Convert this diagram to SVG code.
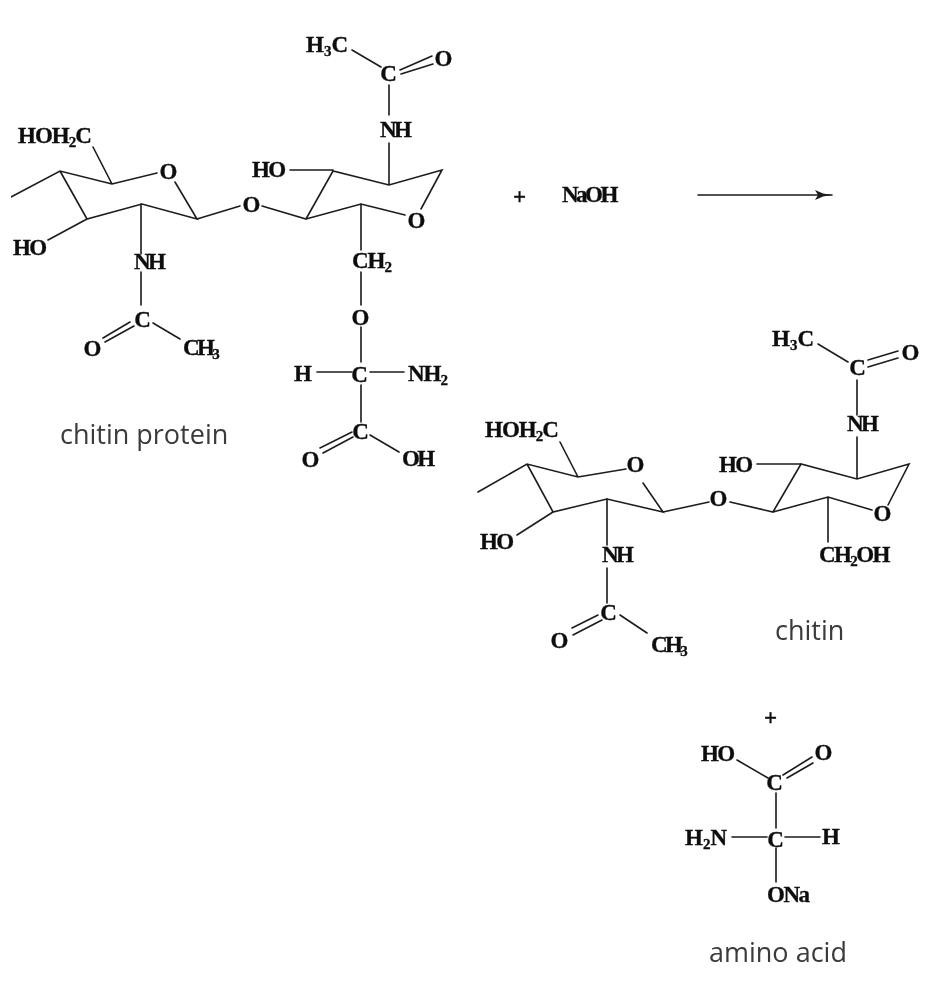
<svg xmlns="http://www.w3.org/2000/svg" width="937" height="1004" viewBox="0 0 937 1004">
<style>
.b{fill:none;stroke:#1c1c1c;stroke-width:1.6;stroke-linecap:round}
.a{font-family:"Liberation Serif","Times New Roman",serif;font-weight:bold;font-size:23px;fill:#111;stroke:#111;stroke-width:.35px;letter-spacing:-1px}
.m{text-anchor:middle}
.s{font-size:15px}
.z{letter-spacing:0}
.t{letter-spacing:-2.6px}
.u{letter-spacing:-1.6px}
.c{font-family:"Open Sans","Noto Sans",sans-serif;font-size:27px;fill:#3a3a3a}
</style>
<defs>
<marker id="h" viewBox="0 0 18 10" refX="17" refY="5" markerWidth="18" markerHeight="10" markerUnits="userSpaceOnUse" orient="auto"><path d="M0 0L8 3.5L17 5L8 6.5L0 10L3 5Z" fill="#1c1c1c"/></marker>
<filter id="soft" x="0" y="0" width="100%" height="100%"><feGaussianBlur stdDeviation="0.35"/></filter>
</defs>
<rect width="937" height="1004" fill="#fff"/>
<g filter="url(#soft)">
<g id="connectors">
<path class="b" d="M11 197L60 171L112 184L157 173M93 147L112 184M60 171L87 219L142 204L197 219L175 182M197 219L240 206M48 240L87 219M262 206L306 219L333 171L389 185L442 170L421 209M290 170H333M306 219L361 204L405 215M361 204V250M389 185V143M389 115V85M352 50L381 67M400 70L432 56M401 74L433 64"/>
<path class="b" d="M141 204V254M141 272V305M103 338L130 322M105 342L134 326M153 323L180 339M361 272V305M361 327V362M317 372H352M370 372H404M361 385V422M320 448L352 432M323 453L353 437M370 435L399 452"/>
<path class="b" d="M478 492L527 464L578 477L626 469M560 442L578 477M527 464L553 512L607 499L663 512L643 483M517 535L553 512M663 512L709 502M730 502L773 512L801 464L857 479L909 464L888 505M757 464H801M773 512L828 497L872 510M828 497V542M857 479V437M857 380V415M818 344L848 362M868 360L898 351M868 367L898 358"/>
<path class="b" d="M607 499V545M607 568V603M572 628L598 615M573 635L602 620M620 615L647 633"/>
<path class="b" d="M737 760L768 778M783 775L812 757M787 778L813 763M776 793V828M732 837H767M785 837H820M776 848V882"/>
<path class="b" marker-end="url(#h)" d="M698 195H832"/>
</g>
<g id="chitin-protein">
<text class="a z" x="306" y="52">H<tspan class="s" dy="4">3</tspan><tspan dy="-4">C</tspan></text>
<text class="a m" x="443" y="66">O</text>
<text class="a m" x="388" y="81">C</text>
<text class="a t" x="380" y="137">NH</text>
<text class="a" x="18" y="143">HOH<tspan class="s" dy="4">2</tspan><tspan dy="-4">C</tspan></text>
<text class="a m" x="168" y="179">O</text>
<text class="a u" x="252" y="177">HO</text>
<text class="a m" x="251" y="212">O</text>
<text class="a m" x="416" y="228">O</text>
<text class="a u" x="13" y="255">HO</text>
<text class="a t" x="134" y="269">NH</text>
<text class="a m" x="142" y="327">C</text>
<text class="a m" x="92" y="356">O</text>
<text class="a t" x="183" y="355">CH<tspan class="s" dy="4">3</tspan></text>
<text class="a" x="352" y="268">CH<tspan class="s" dy="4">2</tspan></text>
<text class="a m" x="360" y="325">O</text>
<text class="a" x="294" y="381">H</text>
<text class="a m" x="359" y="382">C</text>
<text class="a" x="408" y="381">NH<tspan class="s" dy="4">2</tspan></text>
<text class="a m" x="360" y="439">C</text>
<text class="a m" x="310" y="467">O</text>
<text class="a t" x="402" y="466">OH</text>
<text class="c" x="60" y="444">chitin protein</text>
</g>
<g id="reagent">
<text class="a m" x="519" y="204">+</text>
<text class="a" x="562" y="202" style="letter-spacing:-2.5px">NaOH</text>
</g>
<g id="chitin">
<text class="a z" x="772" y="346">H<tspan class="s" dy="4">3</tspan><tspan dy="-4">C</tspan></text>
<text class="a m" x="910" y="360">O</text>
<text class="a m" x="857" y="375">C</text>
<text class="a t" x="847" y="431">NH</text>
<text class="a" x="485" y="437">HOH<tspan class="s" dy="4">2</tspan><tspan dy="-4">C</tspan></text>
<text class="a m" x="635" y="472">O</text>
<text class="a u" x="719" y="472">HO</text>
<text class="a m" x="718" y="506">O</text>
<text class="a m" x="882" y="521">O</text>
<text class="a u" x="480" y="549">HO</text>
<text class="a t" x="602" y="562">NH</text>
<text class="a u" x="819" y="562">CH<tspan class="s" dy="4">2</tspan><tspan dy="-4">OH</tspan></text>
<text class="a m" x="608" y="620">C</text>
<text class="a m" x="559" y="648">O</text>
<text class="a t" x="651" y="652">CH<tspan class="s" dy="4">3</tspan></text>
<text class="c" x="775" y="640">chitin</text>
</g>
<g id="amino-acid">
<text class="a m" x="770" y="725">+</text>
<text class="a u" x="701" y="761">HO</text>
<text class="a m" x="823" y="760">O</text>
<text class="a m" x="774" y="790">C</text>
<text class="a m" x="775" y="847">C</text>
<text class="a z" x="685" y="845">H<tspan class="s" dy="4">2</tspan><tspan dy="-4">N</tspan></text>
<text class="a" x="822" y="844">H</text>
<text class="a" x="767" y="902" style="letter-spacing:-1.5px">ONa</text>
<text class="c" x="709" y="962">amino acid</text>
</g>
</g>
</svg>
